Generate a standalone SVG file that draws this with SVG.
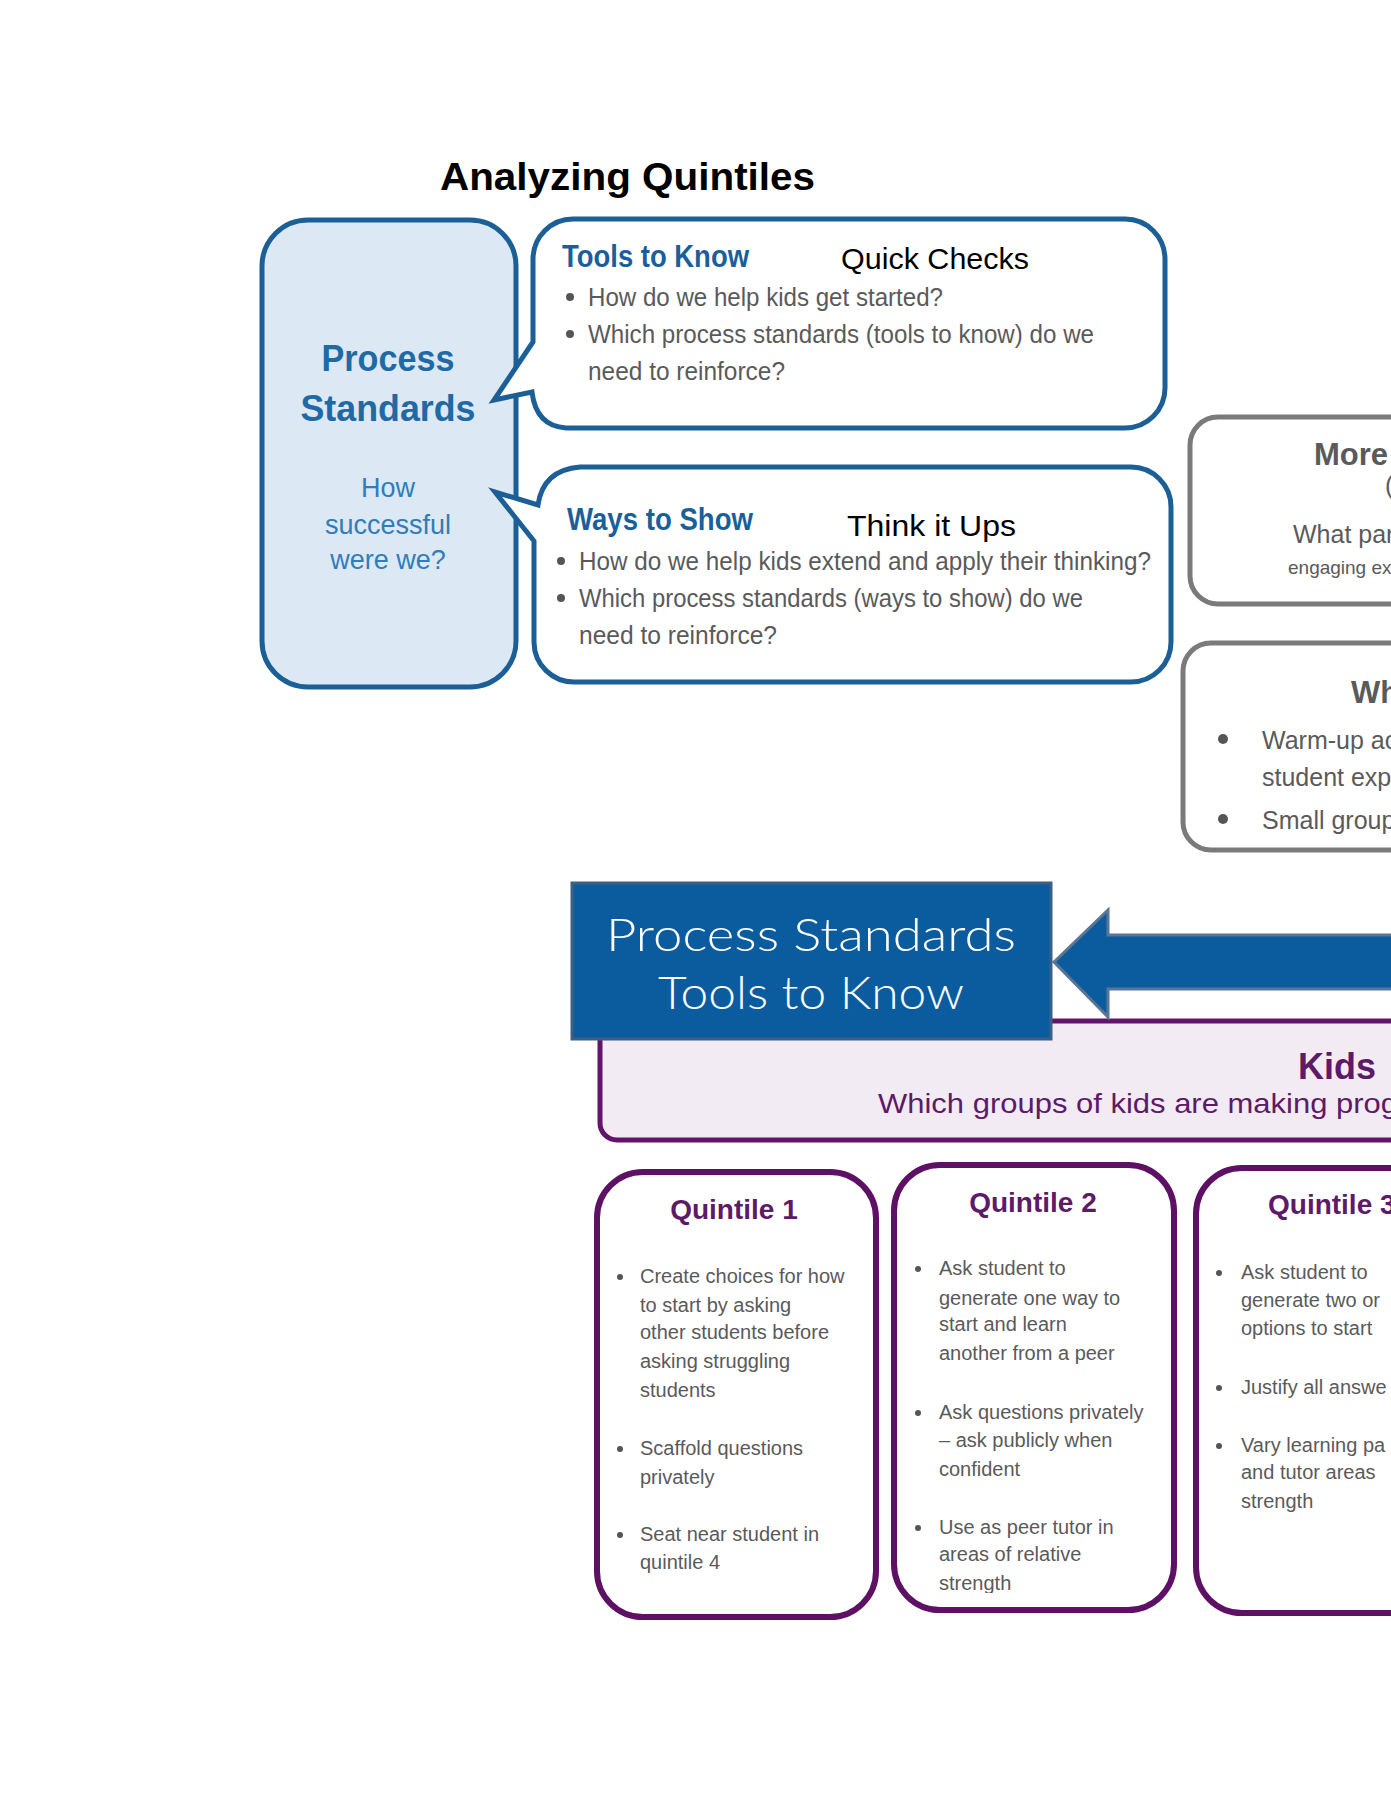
<svg xmlns="http://www.w3.org/2000/svg" width="1391" height="1800" viewBox="0 0 1391 1800">
<style>
.bx{fill:#ffffff;stroke:#1c5f97;stroke-width:5}
.gb{fill:#ffffff;stroke:#7a7a7a;stroke-width:5}
.qb{fill:#ffffff;stroke:#5d1064;stroke-width:6}
.hd{font-family:"Liberation Sans",Arial,sans-serif;font-weight:bold;fill:#1a5f9c}
.bl{font-family:"Liberation Sans",Arial,sans-serif;fill:#5a5a5a;font-size:25px}
.cal{font-family:"Liberation Sans",Arial,sans-serif;fill:#000;font-size:30px}
.qt{font-family:"Liberation Sans",Arial,sans-serif;font-weight:bold;fill:#5d1a68;font-size:28px;text-anchor:middle}
.qx{font-family:"Liberation Sans",Arial,sans-serif;fill:#5a5a5a;font-size:20px}
.dot{fill:#555}
.gt{font-family:"Liberation Sans",Arial,sans-serif;fill:#5a5a5a}
</style>
<defs>
<clipPath id="q2clip"><rect x="894" y="1165" width="280" height="428"/></clipPath>
</defs>
<rect width="1391" height="1800" fill="#ffffff"/>
<text x="440" y="190" font-family="Liberation Sans,Arial,sans-serif" font-weight="bold" font-size="39" textLength="375" lengthAdjust="spacingAndGlyphs" fill="#000">Analyzing Quintiles</text>

<g id="process-standards">
<rect x="262" y="220" width="254" height="467" rx="46" fill="#dce8f4" stroke="#1c5f97" stroke-width="5"/>
<text x="388" y="371" text-anchor="middle" font-family="Liberation Sans,Arial,sans-serif" font-weight="bold" font-size="37" fill="#1f6aa5" textLength="133" lengthAdjust="spacingAndGlyphs">Process</text>
<text x="388" y="421" text-anchor="middle" font-family="Liberation Sans,Arial,sans-serif" font-weight="bold" font-size="37" fill="#1f6aa5" textLength="175" lengthAdjust="spacingAndGlyphs">Standards</text>
<text x="388" y="497" text-anchor="middle" font-family="Liberation Sans,Arial,sans-serif" font-size="27" fill="#2f7dba">How</text>
<text x="388" y="534" text-anchor="middle" font-family="Liberation Sans,Arial,sans-serif" font-size="27" fill="#2f7dba">successful</text>
<text x="388" y="569" text-anchor="middle" font-family="Liberation Sans,Arial,sans-serif" font-size="27" fill="#2f7dba">were we?</text>
</g>

<g id="tools-to-know">
<path class="bx" d="M573,219 H1125 A40,40 0 0 1 1165,259 V388 A40,40 0 0 1 1125,428 H566 Q536,426 532,392 L494,400 L533,342 V259 A40,40 0 0 1 573,219 Z"/>
<text class="hd" x="562" y="267" font-size="31" textLength="187" lengthAdjust="spacingAndGlyphs">Tools to Know</text>
<text class="cal" x="841" y="269" textLength="188" lengthAdjust="spacingAndGlyphs">Quick Checks</text>
<circle class="dot" cx="570" cy="297" r="4"/>
<text class="bl" x="588" y="306" textLength="355" lengthAdjust="spacingAndGlyphs">How do we help kids get started?</text>
<circle class="dot" cx="570" cy="334" r="4"/>
<text class="bl" x="588" y="343" textLength="506" lengthAdjust="spacingAndGlyphs">Which process standards (tools to know) do we</text>
<text class="bl" x="588" y="380" textLength="197" lengthAdjust="spacingAndGlyphs">need to reinforce?</text>
</g>

<g id="ways-to-show">
<path class="bx" d="M580,467 H1131 A40,40 0 0 1 1171,507 V642 A40,40 0 0 1 1131,682 H575 A40,40 0 0 1 534,642 V541 L495,492 L538,505 Q543,470 580,467 Z"/>
<text class="hd" x="567" y="530" font-size="31" textLength="186" lengthAdjust="spacingAndGlyphs">Ways to Show</text>
<text class="cal" x="847" y="536" textLength="169" lengthAdjust="spacingAndGlyphs">Think it Ups</text>
<circle class="dot" cx="561" cy="561" r="4"/>
<text class="bl" x="579" y="570" textLength="572" lengthAdjust="spacingAndGlyphs">How do we help kids extend and apply their thinking?</text>
<circle class="dot" cx="561" cy="598" r="4"/>
<text class="bl" x="579" y="607" textLength="504" lengthAdjust="spacingAndGlyphs">Which process standards (ways to show) do we</text>
<text class="bl" x="579" y="644" textLength="198" lengthAdjust="spacingAndGlyphs">need to reinforce?</text>
</g>

<g id="more-box">
<rect class="gb" x="1190" y="417" width="260" height="187" rx="28"/>
<text class="gt" x="1314" y="465" font-size="31" font-weight="bold">More</text>
<text class="gt" x="1385" y="494" font-size="25">(</text>
<text class="gt" x="1293" y="543" font-size="25">What par</text>
<text class="gt" x="1288" y="574" font-size="19">engaging exp</text>
</g>

<g id="wh-box">
<rect class="gb" x="1183" y="643" width="260" height="207" rx="28"/>
<text class="gt" x="1351" y="703" font-size="31" font-weight="bold">Wh</text>
<circle class="dot" cx="1223" cy="739" r="5"/>
<text class="gt" x="1262" y="749" font-size="25">Warm-up ac</text>
<text class="gt" x="1262" y="786" font-size="25">student exp</text>
<circle class="dot" cx="1223" cy="819" r="5"/>
<text class="gt" x="1262" y="829" font-size="25">Small group</text>
</g>

<g id="kids">
<rect x="600" y="1021" width="840" height="119" rx="17" fill="#f3ebf3" stroke="#62146a" stroke-width="5"/>
<text x="1298" y="1079" font-family="Liberation Sans,Arial,sans-serif" font-weight="bold" font-size="37" fill="#5d1a68" textLength="78" lengthAdjust="spacingAndGlyphs">Kids</text>
<text x="878" y="1113" font-family="Liberation Sans,Arial,sans-serif" font-size="28" fill="#5d1a68" textLength="520" lengthAdjust="spacingAndGlyphs">Which groups of kids are making prog</text>
</g>

<g id="connectors">
<polygon points="1054,962 1108,910 1108,935 1395,935 1395,989 1108,989 1108,1017" fill="#0b5c9e" stroke="#5a7596" stroke-width="3"/>
</g>

<g id="label">
<rect x="572" y="883" width="479" height="156" fill="#0b5c9e" stroke="#3e5f82" stroke-width="3"/>
<text x="811" y="951" text-anchor="middle" font-family="Lato,Liberation Sans,sans-serif" font-weight="300" font-size="46" fill="#ffffff" textLength="410" lengthAdjust="spacingAndGlyphs">Process Standards</text>
<text x="811" y="1009" text-anchor="middle" font-family="Lato,Liberation Sans,sans-serif" font-weight="300" font-size="46" fill="#ffffff" textLength="306" lengthAdjust="spacingAndGlyphs">Tools to Know</text>
</g>

<g id="quintile-1">
<rect class="qb" x="597" y="1172" width="279" height="445" rx="46"/>
<text class="qt" x="734" y="1219">Quintile 1</text>
<circle class="dot" cx="620" cy="1277" r="3"/>
<text class="qx" x="640" y="1283">Create choices for how</text>
<text class="qx" x="640" y="1312">to start by asking</text>
<text class="qx" x="640" y="1339">other students before</text>
<text class="qx" x="640" y="1368">asking struggling</text>
<text class="qx" x="640" y="1397">students</text>
<circle class="dot" cx="620" cy="1449" r="3"/>
<text class="qx" x="640" y="1455">Scaffold questions</text>
<text class="qx" x="640" y="1484">privately</text>
<circle class="dot" cx="620" cy="1535" r="3"/>
<text class="qx" x="640" y="1541">Seat near student in</text>
<text class="qx" x="640" y="1569">quintile 4</text>
</g>

<g id="quintile-2">
<rect class="qb" x="894" y="1165" width="280" height="445" rx="46"/>
<text class="qt" x="1033" y="1212">Quintile 2</text>
<circle class="dot" cx="918" cy="1269" r="3"/>
<text class="qx" x="939" y="1275">Ask student to</text>
<text class="qx" x="939" y="1305">generate one way to</text>
<text class="qx" x="939" y="1331">start and learn</text>
<text class="qx" x="939" y="1360">another from a peer</text>
<circle class="dot" cx="918" cy="1413" r="3"/>
<text class="qx" x="939" y="1419">Ask questions privately</text>
<text class="qx" x="939" y="1447">– ask publicly when</text>
<text class="qx" x="939" y="1476">confident</text>
<circle class="dot" cx="918" cy="1528" r="3"/>
<text class="qx" x="939" y="1534">Use as peer tutor in</text>
<text class="qx" x="939" y="1561">areas of relative</text>
<text class="qx" x="939" y="1590" clip-path="url(#q2clip)">strength</text>
</g>

<g id="quintile-3">
<rect class="qb" x="1196" y="1168" width="280" height="445" rx="46"/>
<text class="qt" x="1268" y="1214" style="text-anchor:start">Quintile 3</text>
<circle class="dot" cx="1219" cy="1273" r="3"/>
<text class="qx" x="1241" y="1279">Ask student to</text>
<text class="qx" x="1241" y="1307">generate two or</text>
<text class="qx" x="1241" y="1335">options to start</text>
<circle class="dot" cx="1219" cy="1388" r="3"/>
<text class="qx" x="1241" y="1394">Justify all answe</text>
<circle class="dot" cx="1219" cy="1446" r="3"/>
<text class="qx" x="1241" y="1452">Vary learning pa</text>
<text class="qx" x="1241" y="1479">and tutor areas</text>
<text class="qx" x="1241" y="1508">strength</text>
</g>
</svg>
